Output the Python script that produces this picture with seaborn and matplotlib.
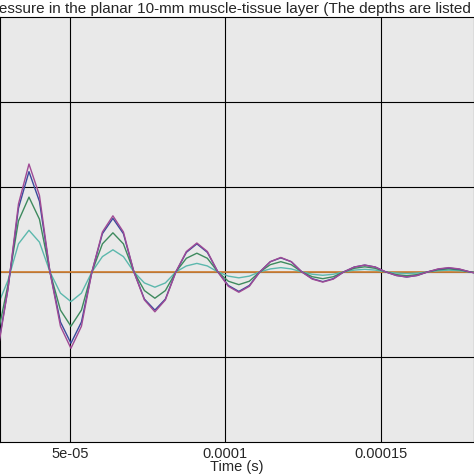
import numpy as np
import matplotlib
matplotlib.use("Agg")
import matplotlib.pyplot as plt
import seaborn as sns

sns.set_style("white")
plt.rcParams['font.family'] = ['Liberation Sans', 'DejaVu Sans']

# sample grid: one sample every 1/8 oscillation period
time_start = 3.682e-5
time_step = 3.376e-6

p_purple = [-0.95, -0.2, 0.8,
            1.27, 0.9, 0, -0.64, -0.90, -0.64, 0, 0.47, 0.66, 0.47, 0, -0.33,
            -0.47, -0.33, 0, 0.24, 0.34, 0.24, 0, -0.17, -0.24, -0.17, 0, 0.12,
            0.17, 0.12, 0, -0.085, -0.12, -0.085, 0, 0.057, 0.08, 0.057, 0, -0.042,
            -0.06, -0.042, 0, 0.035, 0.05, 0.035, 0, -0.025]
p_blue = [-0.92, -0.2, 0.75,
          1.18, 0.83, 0, -0.59, -0.84, -0.59, 0, 0.45, 0.63, 0.45, 0, -0.32,
          -0.45, -0.32, 0, 0.23, 0.33, 0.23, 0, -0.16, -0.23, -0.16, 0, 0.12,
          0.165, 0.12, 0, -0.08, -0.115, -0.08, 0, 0.057, 0.08, 0.057, 0, -0.042,
          -0.06, -0.042, 0, 0.032, 0.045, 0.032, 0, -0.025]
p_green = [-0.75, -0.15, 0.6,
           0.88, 0.62, 0, -0.45, -0.64, -0.45, 0, 0.33, 0.46, 0.33, 0, -0.22,
           -0.31, -0.22, 0, 0.16, 0.22, 0.16, 0, -0.11, -0.15, -0.11, 0, 0.085,
           0.12, 0.085, 0, -0.057, -0.08, -0.057, 0, 0.042, 0.06, 0.042, 0, -0.032,
           -0.045, -0.032, 0, 0.025, 0.035, 0.025, 0, -0.02]
p_teal = [-0.4, -0.1, 0.33,
          0.49, 0.35, 0, -0.25, -0.35, -0.25, 0, 0.18, 0.26, 0.18, 0, -0.13,
          -0.18, -0.13, 0, 0.07, 0.1, 0.07, 0, -0.05, -0.07, -0.05, 0, 0.035,
          0.05, 0.035, 0, -0.028, -0.04, -0.028, 0, 0.021, 0.03, 0.021, 0, -0.014,
          -0.02, -0.014, 0, 0.014, 0.02, 0.014, 0, -0.01]

time = time_start + time_step * np.arange(-3, len(p_purple) - 3)

fig = plt.figure(figsize=(4.74, 4.74), dpi=100)
ax = fig.add_axes([0.0, 0.068, 1.0, 0.896])
ax.set_facecolor('#e9e9e9')

ax.axhline(0, color='#d2843a', lw=1.3, zorder=1)
sns.lineplot(x=time, y=p_teal, ax=ax, color='#5cb8ad', lw=1.0, zorder=2)
sns.lineplot(x=time, y=p_green, ax=ax, color='#3e8a5e', lw=1.0, zorder=3)
sns.lineplot(x=time, y=p_blue, ax=ax, color='#3b4a9c', lw=1.0, zorder=4)
sns.lineplot(x=time, y=p_purple, ax=ax, color='#a04a95', lw=1.0, zorder=5)

ax.set_xlim(2.75e-5, 1.8e-4)
ax.set_ylim(-2, 3)
ax.set_xticks([5e-5, 1e-4, 1.5e-4])
ax.set_xticklabels(['5e-05', '0.0001', '0.00015'], fontsize=10.5)
ax.set_xticks(np.arange(3e-5, 1.8e-4, 1e-5), minor=True)
ax.set_yticks([-1, 0, 1, 2])
ax.set_yticklabels([])
ax.tick_params(axis='x', which='major', length=3, pad=1)
ax.tick_params(axis='x', which='minor', length=2)
ax.tick_params(axis='y', length=0)
ax.grid(True, color='black', lw=0.8)
ax.set_axisbelow(True)
for s in ax.spines.values():
    s.set_color('black')
ax.set_xlabel('Time (s)', fontsize=10.5, labelpad=-1)
ax.set_title('Absolute pressure in the planar 10-mm muscle-tissue layer (The depths are listed to the right)',
             fontsize=11, pad=3)

fig.savefig('out.png', dpi=100)
